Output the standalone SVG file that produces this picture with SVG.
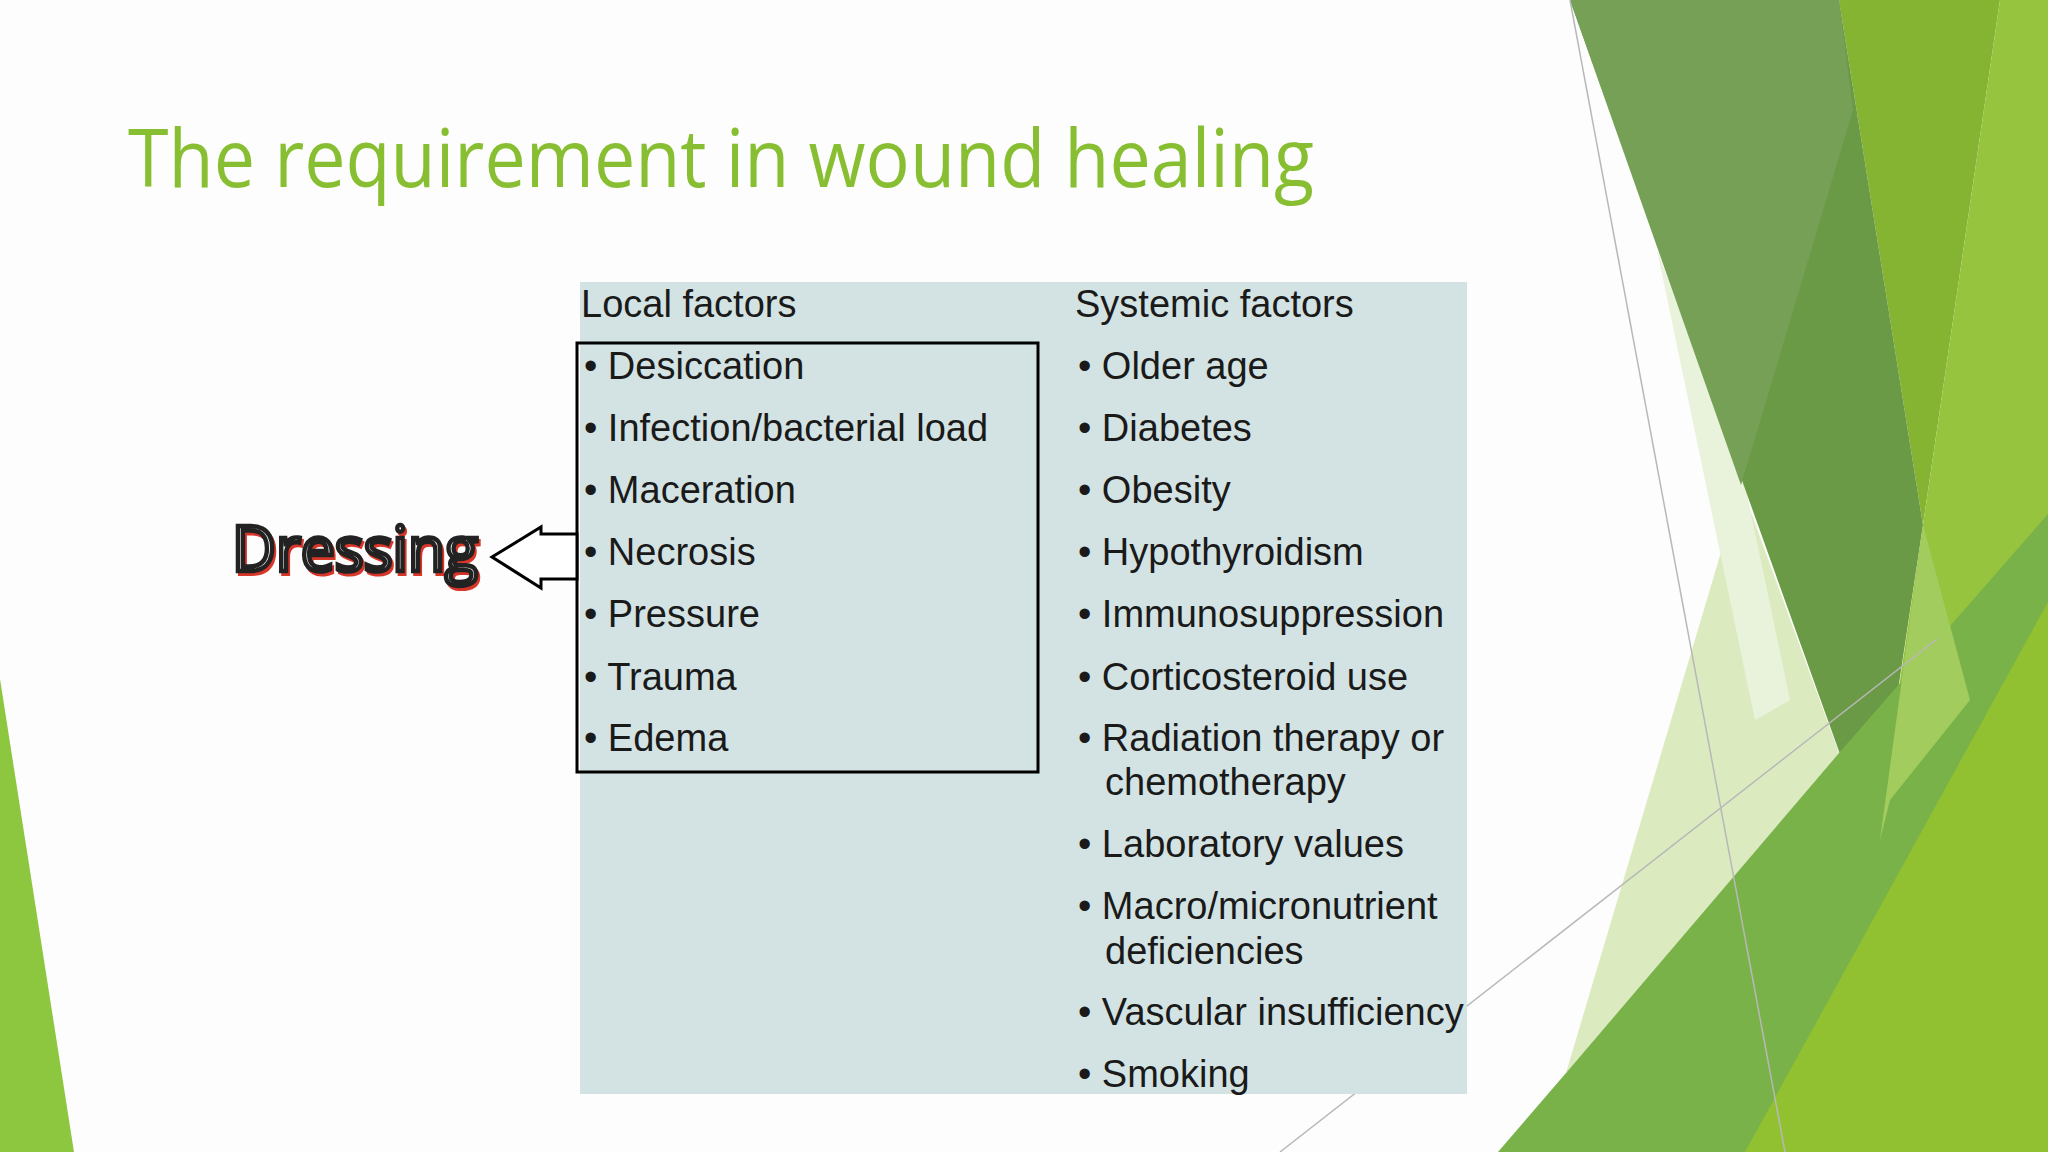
<svg xmlns="http://www.w3.org/2000/svg" width="2048" height="1152" viewBox="0 0 2048 1152">
<style>
.t{font-family:"Liberation Sans",Arial,sans-serif;font-size:38px;fill:#1a1a1a}
.ln{stroke:#b8b8b8;stroke-width:1.5;fill:none}
</style>
<rect width="2048" height="1152" fill="#fdfdfd"/>
<g id="background">
<polygon points="0,679 0,1152 74,1152" fill="#8dc63f"/>
<polygon points="1741,485 1839,753 1566,1073" fill="#dceac0"/>
<polygon points="1657,250 1745,485 1790,700 1755,720" fill="#e9f3dc"/>
<polygon points="1839,0 2000,0 1923,525" fill="#84b431"/>
<polygon points="1570,0 1839,0 1923,525 1874,849" fill="#6a9a45"/>
<polygon points="1570,0 1839,0 1853,110 1741,485" fill="#77a057"/>
<polygon points="1841,753 1898,687 1874,849" fill="#4f8a25"/>
<polygon points="2000,0 2048,0 2048,1152 1830,1152 1923,525" fill="#97c43e"/>
<polygon points="1498,1152 1566,1073 1839,753 2048,514 2048,1152" fill="#7ab24a"/>
<polygon points="1880,840 1923,525 1970,700 1890,800" fill="#a2cc5e"/>
<polygon points="1745,1152 2048,602 2048,1152" fill="#91c130"/>
<line class="ln" x1="1570" y1="0" x2="1785" y2="1152"/>
<line class="ln" x1="1280" y1="1152" x2="1937" y2="639"/>
</g>
<text id="title" x="128" y="187" font-family="'Open Sans','DejaVu Sans',sans-serif" font-size="80" fill="#88bf32" textLength="1186" lengthAdjust="spacingAndGlyphs">The requirement in wound healing</text>
<g id="panel">
<rect x="580" y="282" width="887" height="812" fill="#d3e3e3"/>
<text class="t" x="581" y="317">Local factors</text>
<text class="t" x="1075" y="317">Systemic factors</text>
</g>
<g id="local">
<text class="t" x="584" y="379">• Desiccation</text>
<text class="t" x="584" y="441">• Infection/bacterial load</text>
<text class="t" x="584" y="503">• Maceration</text>
<text class="t" x="584" y="565">• Necrosis</text>
<text class="t" x="584" y="627">• Pressure</text>
<text class="t" x="584" y="690">• Trauma</text>
<text class="t" x="584" y="751">• Edema</text>
</g>
<g id="systemic">
<text class="t" x="1078" y="379">• Older age</text>
<text class="t" x="1078" y="441">• Diabetes</text>
<text class="t" x="1078" y="503">• Obesity</text>
<text class="t" x="1078" y="565">• Hypothyroidism</text>
<text class="t" x="1078" y="627">• Immunosuppression</text>
<text class="t" x="1078" y="690">• Corticosteroid use</text>
<text class="t" x="1078" y="751">• Radiation therapy or</text>
<text class="t" x="1105" y="795">chemotherapy</text>
<text class="t" x="1078" y="857">• Laboratory values</text>
<text class="t" x="1078" y="919">• Macro/micronutrient</text>
<text class="t" x="1105" y="964">deficiencies</text>
<text class="t" x="1078" y="1025">• Vascular insufficiency</text>
<text class="t" x="1078" y="1087">• Smoking</text>
</g>
<g id="localbox"><rect x="577" y="343" width="461" height="429" fill="none" stroke="#000" stroke-width="3"/></g>
<g id="connectors"><polygon points="577,534 541,534 541,527 492,557 541,588 541,579 577,579" fill="#fff" stroke="#000" stroke-width="3"/></g>
<g id="dressing" font-family="'Open Sans','Noto Sans',sans-serif" font-size="62" font-weight="400">
<text x="234" y="574" fill="#fff" stroke="#d9362a" stroke-width="4" textLength="246" lengthAdjust="spacingAndGlyphs">Dressing</text>
<text x="232" y="571" fill="#fff" stroke="#222" stroke-width="4.5" textLength="246" lengthAdjust="spacingAndGlyphs">Dressing</text>
</g>
</svg>
